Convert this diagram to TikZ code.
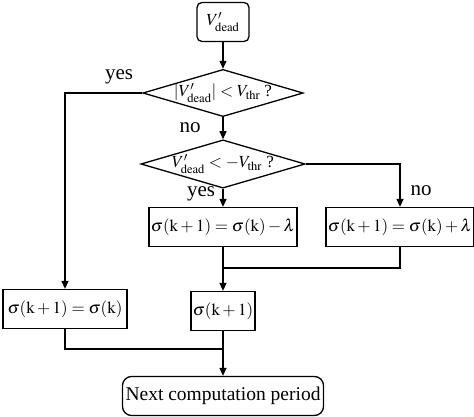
\documentclass[tikz,border=0pt]{standalone}
\usepackage{mathptmx}
\usepackage{fontspec}
\setmainfont{Liberation Serif}
\usepackage{tikz}
\usetikzlibrary{shapes.geometric, arrows.meta, positioning, calc}

\begin{document}
\begin{tikzpicture}[x=1pt, y=-1pt, line width=1.3pt, font=\fontsize{17}{20}\selectfont,
  flow/.style={-{Triangle[width=7pt, length=8pt]}},
  procbox/.style={draw, minimum height=39pt, inner sep=2pt},
  testbox/.style={draw, shape=diamond, aspect=3.4, inner sep=0pt},
  answer/.style={font=\fontsize{21}{24}\selectfont}]
  \useasboundingbox (0,0) rectangle (474,417);

  % Start
  \node[procbox, rounded corners=5pt, minimum width=52pt] (start) at (223, 22) {$V'_{\mathrm{dead}}$};

  % Tests
  \node[testbox, minimum width=157pt, minimum height=47pt] (test1) at (223, 93) {$|V'_{\mathrm{dead}}| < V_{\mathrm{thr}}$ ?};
  \node[testbox, minimum width=159pt, minimum height=47pt] (test2) at (223, 164) {$V'_{\mathrm{dead}} < -V_{\mathrm{thr}}$ ?};

  % Updates
  \node[procbox, minimum width=146pt] (minus) at (223, 227) {$\sigma(\mathrm{k}+1) = \sigma(\mathrm{k}) - \lambda$};
  \node[procbox, minimum width=145pt] (plus) at (400, 227) {$\sigma(\mathrm{k}+1) = \sigma(\mathrm{k}) + \lambda$};
  \node[procbox, minimum width=61pt] (sig) at (223, 311) {$\sigma(\mathrm{k}+1)$};
  \node[procbox, minimum width=124pt] (same) at (65, 309) {$\sigma(\mathrm{k}+1) = \sigma(\mathrm{k})$};

  % End
  \node[procbox, rounded corners=9pt, minimum width=201pt, font=\fontsize{19.5}{22}\selectfont] (next) at (223, 396) {Next computation period};

  % Labels
  \node[answer] (yes1) at (119, 77) {yes};
  \node[answer] (no1) at (190, 128) {no};
  \node[answer] (yes2) at (201, 194) {yes};
  \node[answer] (no2) at (421, 191) {no};

  % Connectors
  \coordinate (join1) at (223, 268);
  \coordinate (join2) at (223, 349);
  \draw[flow] (start) -- (test1);
  \draw[flow] (test1) -- (test2);
  \draw[flow] (test1.west) -| (same.north);
  \draw[flow] (test2) -- (minus);
  \draw[flow] (test2.east) -| (plus.north);
  \draw[flow] (minus) -- (sig);
  \draw (plus.south) |- (join1);
  \draw[flow] (sig) -- (next);
  \draw (same.south) |- (join2);
\end{tikzpicture}
\end{document}
